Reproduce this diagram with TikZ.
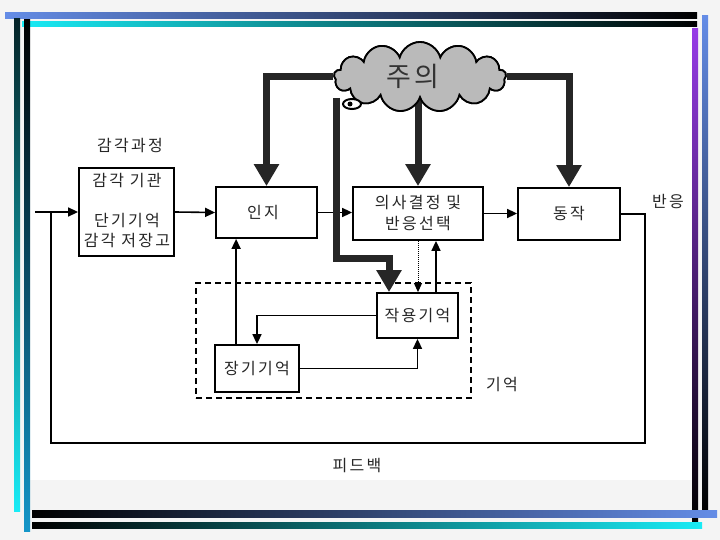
\documentclass[tikz,border=0pt]{standalone}
\usepackage{fontspec}
\setmainfont{Noto Sans CJK KR}
\newfontfamily\boxfont[LetterSpace=14]{Noto Sans CJK KR}
\usetikzlibrary{arrows.meta,shapes.symbols,calc}
\definecolor{lblue}{RGB}{100,140,230}
\definecolor{cyanb}{RGB}{25,235,245}
\definecolor{tealb}{RGB}{20,150,200}
\definecolor{purp}{RGB}{150,60,230}
\definecolor{bgg}{RGB}{244,244,244}
\definecolor{dteal}{RGB}{5,35,40}
\begin{document}
\begin{tikzpicture}[x=1pt,y=-1pt,
  box/.style={draw=black, line width=1.8pt, fill=white, inner sep=0pt},
  txt/.style={font=\boxfont\fontsize{16}{21}\selectfont, inner sep=0pt, text=black!85},
  arr/.style={line width=1.6pt, -{Triangle[length=10pt,width=9pt]}},
  thickarr/.style={line width=7pt, draw=black!85, -{Triangle[length=22pt,width=24pt]}},
  thin/.style={line width=1.6pt},
  cloudstyle/.style={cloud, cloud puffs=13, aspect=2.6, draw=black, line width=1.8pt, fill=black!27,
      minimum width=172pt, minimum height=70pt, inner sep=0pt}
]
\useasboundingbox (0,0) rectangle (720,540);
\fill[bgg] (0,0) rectangle (720,540);
\fill[white] (30,27) rectangle (693,480);
% decorative bars
\shade[left color=lblue, right color=black] (5,13) rectangle (697,19);
\shade[left color=cyanb, right color=black] (22,22) rectangle (697,27);
\shade[top color=dteal, bottom color=cyanb] (14,19) rectangle (20,511);
\shade[top color=black, bottom color=tealb] (24,20) rectangle (30,531);
\shade[top color=purp, bottom color=black] (692,29) rectangle (698,522);
\shade[top color=lblue, bottom color=black] (702,16) rectangle (708,510);
\shade[left color=black, right color=lblue] (32,510) rectangle (717,517);
\shade[left color=black, right color=cyanb] (32,522) rectangle (702,528);

% nodes
\node[cloudstyle] (cloud) at (420,77) {};
\node[box, minimum width=95pt, minimum height=88pt] (sens) at (126.5,212) {};
\node[box, minimum width=101pt, minimum height=51pt] (cog) at (266.5,212.5) {};
\node[box, minimum width=130pt, minimum height=53pt] (dec) at (418,213.5) {};
\node[box, minimum width=102pt, minimum height=52pt] (act) at (569,214) {};
\node[box, minimum width=81pt, minimum height=45pt] (wm) at (417.5,315.5) {};
\node[box, minimum width=84pt, minimum height=47pt] (ltm) at (257,368.5) {};
\node[draw=black, line width=1.6pt, dash pattern=on 6pt off 4pt,
      minimum width=275pt, minimum height=115pt, inner sep=0pt] (mem) at (333.5,340.5) {};

% texts
\node[txt] (t1) at (127,181) {감각 기관};
\node[txt] (t2) at (127,221) {단기기억};
\node[txt] (t3) at (127,241) {감각 저장고};
\node[txt] (tcog) at (263,212.5) {인지};
\node[txt, align=center] (tdec) at (418,213.5) {의사결정 및\\반응선택};
\node[txt] (tact) at (569,214) {동작};
\node[txt] (twm) at (417.5,315.5) {작용기억};
\node[txt] (tltm) at (257,368.5) {장기기억};
\node[txt] (lsens) at (130,146) {감각과정};
\node[txt] (lresp) at (668,202) {반응};
\node[txt] (lmem) at (502,385) {기억};
\node[txt] (lfb) at (357,466) {피드백};

% coordinates
\coordinate (in) at (35,212);
\coordinate (fbR) at (645,443);
\coordinate (fbL) at (51,443);
\coordinate (fbJ) at (51,212);
\coordinate (eye) at (336,101);
\coordinate (bend) at (336,258);

% thin connectors
\draw[arr] (in) -- (sens.west);
\draw[thin] (act.east) -| (fbR) -- (fbL) -- (fbJ);
\draw[arr] (sens.east) -- (cog.west);
\draw[arr] (cog.east) -- (cog.east -| dec.west);
\draw[arr] (dec.east) -- (dec.east -| act.west);
\draw[arr] ([xshift=22pt]ltm.north west) -- ([xshift=22pt]ltm.north west |- cog.south);
\draw[arr] (wm.west) -| (ltm.north);
\draw[arr] (ltm.east) -| (wm.south);
\draw[arr] ([xshift=18.5pt]wm.north) -- ([xshift=18.5pt]wm.north |- dec.south);
\draw[line width=1pt, densely dotted, -{Triangle[length=9pt,width=8pt]}] (dec.south) -- (dec.south |- wm.north);

% thick connectors
\draw[thickarr] (cloud.west) -| (cog.north);
\draw[thickarr] (cloud.east) -| (act.north);
\draw[thickarr] (cloud.south -| dec.north) -- (dec.north);
\draw[thickarr] (eye) -- (bend) -| ([xshift=-28.5pt]wm.north);
% redraw cloud on top of line starts
\node[cloudstyle] (cloudtop) at (420,77) {};
\node[font=\boxfont\fontsize{27}{30}\selectfont, inner sep=0pt, text=black!80] (tatt) at (413,76) {주의};
\draw[line width=2pt, fill=white] (352,104) ellipse (9 and 5);
\fill[black] (350,104) circle (2.5);
\draw[line width=7pt, draw=black!85] (336,98) -- (336,106);
\end{tikzpicture}
\end{document}
